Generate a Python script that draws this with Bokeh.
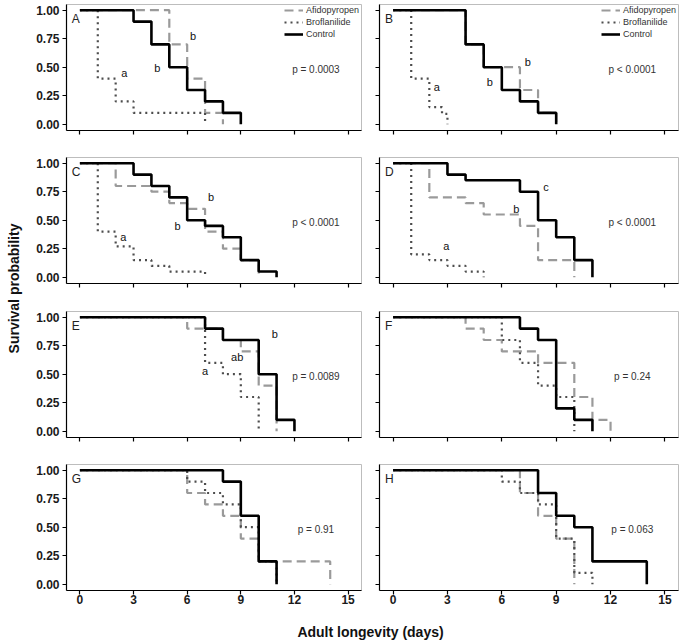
import numpy as np
from bokeh.plotting import figure
from bokeh.models import FixedTicker, NumeralTickFormatter, CustomJSTickFormatter, Range1d
from bokeh.layouts import row, column
from bokeh.core.properties import value
from bokeh.embed import file_html
from bokeh.resources import INLINE

FONT = "Liberation Sans"

# ---------------- data ----------------
x_ticks = [0, 3, 6, 9, 12, 15]
y_ticks = [0.0, 0.25, 0.5, 0.75, 1.0]
series_names = ["Afidopyropen", "Broflanilide", "Control"]
panel_ids = ["A", "B", "C", "D", "E", "F", "G", "H"]
p_values = ["p = 0.0003", "p < 0.0001", "p < 0.0001", "p < 0.0001",
            "p = 0.0089", "p = 0.24", "p = 0.91", "p = 0.063"]

A_afi_days = [0, 5, 6, 7, 8]
A_afi_surv = [1, 0.7, 0.4, 0.1, 0]
A_bro_days = [0, 1, 2, 3, 7]
A_bro_surv = [1, 0.4, 0.2, 0.1, 0]
A_ctl_days = [0, 3, 4, 5, 6, 7, 8, 9]
A_ctl_surv = [1, 0.9, 0.7, 0.5, 0.3, 0.2, 0.1, 0]
A_groups = ["a", "b", "b"]

B_afi_days = [0, 4, 5, 7, 8, 9]
B_afi_surv = [1, 0.7, 0.5, 0.3, 0.1, 0]
B_bro_days = [0, 1, 2, 2.7, 3]
B_bro_surv = [1, 0.4, 0.15, 0.09, 0]
B_ctl_days = [0, 4, 5, 6, 7, 8, 9]
B_ctl_surv = [1, 0.7, 0.5, 0.3, 0.2, 0.1, 0]
B_groups = ["a", "b", "b"]

C_afi_days = [0, 2, 4, 5, 6, 7, 8, 9, 10]
C_afi_surv = [1, 0.8, 0.75, 0.65, 0.6, 0.4, 0.25, 0.15, 0]
C_bro_days = [0, 1, 2, 3, 4, 5, 7]
C_bro_surv = [1, 0.4, 0.27, 0.15, 0.1, 0.05, 0]
C_ctl_days = [0, 3, 4, 5, 6, 7, 8, 9, 10, 11]
C_ctl_surv = [1, 0.9, 0.8, 0.7, 0.5, 0.45, 0.35, 0.15, 0.05, 0]
C_groups = ["a", "b", "b"]

D_afi_days = [0, 2, 4, 5, 7, 8, 10]
D_afi_surv = [1, 0.7, 0.65, 0.55, 0.45, 0.15, 0]
D_bro_days = [0, 1, 2, 3, 4, 5]
D_bro_surv = [1, 0.2, 0.15, 0.1, 0.05, 0]
D_ctl_days = [0, 3, 4, 7, 8, 9, 10, 11]
D_ctl_surv = [1, 0.9, 0.85, 0.75, 0.5, 0.35, 0.15, 0]
D_groups = ["a", "b", "c"]

E_afi_days = [0, 6, 8, 9, 10, 11]
E_afi_surv = [1, 0.9, 0.8, 0.7, 0.4, 0]
E_bro_days = [0, 7, 8, 9, 10]
E_bro_surv = [1, 0.6, 0.5, 0.3, 0]
E_ctl_days = [0, 7, 8, 10, 11, 12]
E_ctl_surv = [1, 0.9, 0.8, 0.5, 0.1, 0]
E_groups = ["a", "ab", "b"]

F_afi_days = [0, 4, 5, 6, 8, 10, 11, 12]
F_afi_surv = [1, 0.9, 0.8, 0.7, 0.6, 0.3, 0.1, 0]
F_bro_days = [0, 6, 7, 8, 9, 10]
F_bro_surv = [1, 0.8, 0.6, 0.4, 0.3, 0]
F_ctl_days = [0, 7, 8, 9, 10, 11]
F_ctl_surv = [1, 0.9, 0.8, 0.2, 0.1, 0]
F_groups = []

G_afi_days = [0, 6, 7, 8, 9, 10, 14]
G_afi_surv = [1, 0.8, 0.7, 0.6, 0.4, 0.2, 0]
G_bro_days = [0, 6, 7, 8, 9, 10, 11]
G_bro_surv = [1, 0.9, 0.8, 0.7, 0.5, 0.2, 0]
G_ctl_days = [0, 8, 9, 10, 11]
G_ctl_surv = [1, 0.9, 0.6, 0.2, 0]
G_groups = []

H_afi_days = [0, 7, 8, 9, 10]
H_afi_surv = [1, 0.8, 0.6, 0.4, 0]
H_bro_days = [0, 6, 7, 8, 9, 10, 11]
H_bro_surv = [1, 0.9, 0.8, 0.7, 0.4, 0.1, 0]
H_ctl_days = [0, 8, 9, 10, 11, 14]
H_ctl_surv = [1, 0.8, 0.6, 0.5, 0.2, 0]
H_groups = []

# ---------------- assembly ----------------
g = globals()
curves = {pid: [(g[f"{pid}_afi_days"], g[f"{pid}_afi_surv"]),
                (g[f"{pid}_bro_days"], g[f"{pid}_bro_surv"]),
                (g[f"{pid}_ctl_days"], g[f"{pid}_ctl_surv"])] for pid in panel_ids}
groups = {pid: g[f"{pid}_groups"] for pid in panel_ids}

# layout of group letters (x, y in data units)
group_pos = {
    "A": [(2.48, 0.45), (4.33, 0.49), (6.33, 0.77)],
    "B": [(2.41, 0.33), (5.34, 0.37), (7.44, 0.55)],
    "C": [(2.43, 0.35), (5.46, 0.45), (7.33, 0.70)],
    "D": [(2.94, 0.27), (6.80, 0.60), (8.44, 0.79)],
    "E": [(7.0, 0.53), (8.8, 0.65), (10.9, 0.85)],
}

styles = [
    dict(line_color="#9A9A9A", line_width=2.2, line_dash="9 5"),
    dict(line_color="#4D4D4D", line_width=2.2, line_dash="2 4"),
    dict(line_color="#000000", line_width=2.6, line_dash="solid"),
]

FRAME_H = 126
ROW_BOTTOM = [23, 24, 23, 20]
blank = CustomJSTickFormatter(code="return ''")


def make_panel(idx):
    pid = panel_ids[idx]
    col = idx % 2
    r = idx // 2
    last = r == 3
    p = figure(frame_width=295 if col == 0 else 299, frame_height=FRAME_H,
               x_range=Range1d(-0.75, 15.75), y_range=Range1d(-0.055, 1.05),
               output_backend="svg", toolbar_location=None,
               min_border_top=4, min_border_bottom=ROW_BOTTOM[r],
               min_border_left=40 if col == 0 else 12,
               min_border_right=6 if col == 0 else 4,
               background_fill_color="white", border_fill_color="white")
    p.grid.visible = False
    p.outline_line_color = "#BDBDBD"
    p.outline_line_width = 1
    p.xaxis.ticker = FixedTicker(ticks=x_ticks)
    p.yaxis.ticker = FixedTicker(ticks=y_ticks)
    for ax in (p.xaxis[0], p.yaxis[0]):
        ax.axis_line_color = "black"
        ax.axis_line_width = 1.2
        ax.major_tick_line_color = "black"
        ax.major_tick_line_width = 1.2
        ax.major_tick_in = 0
        ax.major_tick_out = 4
        ax.minor_tick_line_color = None
        ax.major_label_text_font = FONT
        ax.major_label_text_font_style = "bold"
        ax.major_label_text_font_size = "12px"
        ax.major_label_text_color = "#1A1A1A"
        ax.major_label_standoff = 3
    p.xaxis.major_label_standoff = 0
    if col == 0:
        p.yaxis.formatter = NumeralTickFormatter(format="0.00")
    else:
        p.yaxis.formatter = blank
    if not last:
        p.xaxis.formatter = blank

    for k, (days, surv) in enumerate(curves[pid]):
        kw = dict(styles[k])
        if pid in ("A", "B"):
            kw["legend_label"] = series_names[k]
        p.step(x=days, y=surv, mode="after", **kw)

    if pid in ("A", "B"):
        lg = p.legend[0]
        lg.location = "top_right"
        lg.border_line_color = None
        lg.background_fill_alpha = 0
        lg.label_text_font = FONT
        lg.label_text_font_size = "9px"
        lg.label_text_color = "#333333"
        lg.glyph_width = 19
        lg.glyph_height = 12
        lg.label_height = 12
        lg.label_width = 55
        lg.label_standoff = 3
        lg.spacing = 0
        lg.padding = 3
        lg.margin = 0

    # panel letter
    p.text(x=[-0.45], y=[0.92], text=[pid], text_font=value(FONT),
           text_font_size="12px", text_align="left", text_baseline="middle",
           text_color="#222222")
    # p value
    p.text(x=[13.2], y=[0.48], text=[p_values[idx]], text_font=value(FONT),
           text_font_size="10px", text_align="center", text_baseline="middle",
           text_color="#333333")
    # group letters
    if groups[pid]:
        pos = group_pos[pid]
        p.text(x=[q[0] for q in pos], y=[q[1] for q in pos], text=groups[pid],
               text_font=value(FONT), text_font_size="11px", text_align="center",
               text_baseline="middle", text_color="#111111")
    return p


panels = [make_panel(i) for i in range(8)]

GRID_H = sum(4 + FRAME_H + b for b in ROW_BOTTOM)
ylab = figure(width=26, height=GRID_H, x_range=Range1d(0, 26), y_range=Range1d(0, GRID_H),
              output_backend="svg", toolbar_location=None, min_border=0,
              x_axis_location=None, y_axis_location=None)
ylab.grid.visible = False
ylab.outline_line_color = None
ylab.text(x=[13], y=[GRID_H - 288], text=["Survival probability"], angle=np.pi / 2,
          text_font=value(FONT), text_font_size="14px", text_font_style="bold",
          text_align="center", text_baseline="middle", text_color="#111111")

XLAB_H = 30
xlab = figure(width=682, height=XLAB_H, x_range=Range1d(0, 682), y_range=Range1d(0, XLAB_H),
              output_backend="svg", toolbar_location=None, min_border=0,
              x_axis_location=None, y_axis_location=None)
xlab.grid.visible = False
xlab.outline_line_color = None
xlab.text(x=[370], y=[XLAB_H - (631 - GRID_H)], text=["Adult longevity (days)"],
          text_font=value(FONT), text_font_size="14px", text_font_style="bold",
          text_align="center", text_baseline="middle", text_color="#111111")

grid = column(row(panels[0], panels[1]), row(panels[2], panels[3]),
              row(panels[4], panels[5]), row(panels[6], panels[7]))
page = column(row(ylab, grid), xlab)

open("out.html", "w").write(file_html(page, INLINE))
